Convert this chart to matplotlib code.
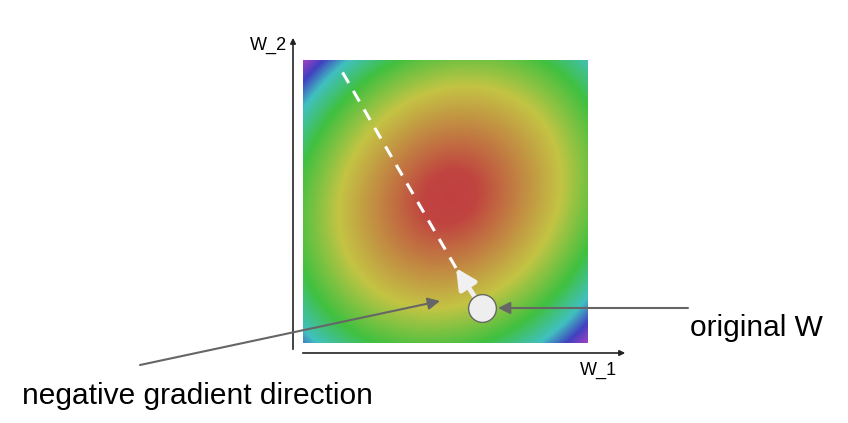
import numpy as np
import matplotlib
matplotlib.use('Agg')
import matplotlib.pyplot as plt
from matplotlib.colors import LinearSegmentedColormap

# ── Data (pixel coordinates of the diagram) ─────────────────────────────────
IMG_EXTENT = [303, 588, 343, 60]         # left, right, bottom, top
MIN_CENTER = (450, 197)
W_POINT = (482, 308)
STEP_TIP = (456, 268)
DASH_END = (340, 68)
ORIG_LABEL_ARROW = [(688, 308), (498, 308)]
NEG_LABEL_ARROW = [(140, 365), (440, 301)]

levels = [0.0, 0.12, 0.5, 0.7, 0.83, 0.91, 1.0]
colors = ['#c04040', '#c04440', '#c4c444', '#40c040', '#40c0c0', '#4040c0', '#c040c0']
cmap = LinearSegmentedColormap.from_list('bowl', list(zip(levels, colors)))

fig = plt.figure(figsize=(8.48, 4.23), dpi=100)
ax = fig.add_axes([0, 0, 1, 1])
ax.set_xlim(0, 848)
ax.set_ylim(423, 0)
ax.axis('off')

# loss surface
xs = np.linspace(IMG_EXTENT[0], IMG_EXTENT[1], 300)
ys = np.linspace(IMG_EXTENT[3], IMG_EXTENT[2], 300)
X, Y = np.meshgrid(xs, ys)
u = (X - MIN_CENTER[0]) / 140
v = (Y - MIN_CENTER[1]) / 140
along = (u - v) / np.sqrt(2)
across = (u + v) / np.sqrt(2)
d = np.sqrt((along / 1.08) ** 2 + (across / 0.93) ** 2)
ax.imshow(d / 1.58, cmap=cmap, vmin=0, vmax=1, extent=IMG_EXTENT,
          interpolation='bilinear', zorder=1)

# axes arrows
ax.annotate('', xy=(293, 35), xytext=(293, 352),
            arrowprops=dict(arrowstyle='-|>', color='#222222', lw=1.2, mutation_scale=8))
ax.annotate('', xy=(628, 353), xytext=(300, 353),
            arrowprops=dict(arrowstyle='-|>', color='#222222', lw=1.2, mutation_scale=8))
ax.text(250, 45, 'W_2', fontsize=13, family='Liberation Sans', ha='left', va='center')
ax.text(580, 370, 'W_1', fontsize=13, family='Liberation Sans', ha='left', va='center')

# dashed path and step arrow
ax.plot([STEP_TIP[0], DASH_END[0]], [STEP_TIP[1], DASH_END[1]],
        color='white', lw=2.2, ls=(0, (4, 3)), zorder=3)
ax.annotate('', xy=STEP_TIP, xytext=W_POINT,
            arrowprops=dict(arrowstyle='-|>', color='#f0f0f0', lw=3.5, mutation_scale=30,
                            shrinkA=8, shrinkB=0),
            zorder=4)
ax.scatter([W_POINT[0]], [W_POINT[1]], s=400, color='#eeeeee', edgecolor='#666666',
           linewidth=1, zorder=5)

# label arrows
for (x0, y0), (x1, y1) in [ORIG_LABEL_ARROW, NEG_LABEL_ARROW]:
    ax.annotate('', xy=(x1, y1), xytext=(x0, y0),
                arrowprops=dict(arrowstyle='-|>', color='#666666', lw=1.5, mutation_scale=18,
                                shrinkA=0, shrinkB=0),
                zorder=6)
ax.text(690, 328, 'original W', fontsize=21.5, family='Liberation Sans', ha='left', va='center')
ax.text(22, 396, 'negative gradient direction', fontsize=21.5, family='Liberation Sans',
        ha='left', va='center')

fig.savefig('out.png', dpi=100)
